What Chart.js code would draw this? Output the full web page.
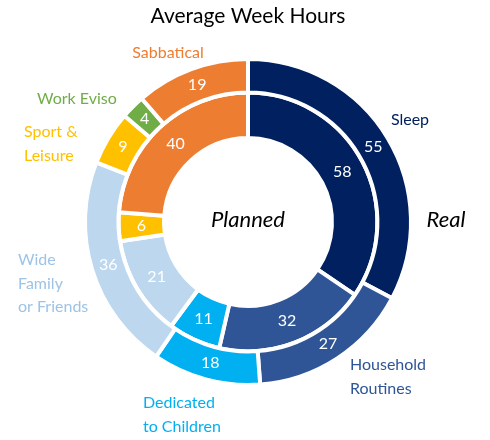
<!DOCTYPE html>
<html><head><meta charset="utf-8">
<script src="https://cdn.jsdelivr.net/npm/chart.js@4/dist/chart.umd.min.js"></script>
<style>body{margin:0;background:#fff}#wrap{width:490px;height:440px}</style>
</head><body><div id="wrap"><canvas id="c"></canvas></div>
<script>
const categories = ['Sleep', 'Household Routines', 'Dedicated to Children', 'Wide Family or Friends', 'Sport & Leisure', 'Work Eviso', 'Sabbatical'];
const realHours = [55, 27, 18, 36, 9, 4, 19];
const plannedHours = [58, 32, 11, 21, 6, 0, 40];
const colors = ['#002060', '#2F5597', '#00B0F0', '#BDD7EE', '#FFC000', '#70AD47', '#ED7D31'];
const FONT = 'Lato, "Open Sans", sans-serif';

// outside category labels: [lines, x, y, align]
const outsideLabels = [
  [['Sleep'], 410, 120, 'center'],
  [['Household', 'Routines'], 350, 365, 'left'],
  [['Dedicated', 'to Children'], 143, 403, 'left'],
  [['Wide', 'Family', 'or Friends'], 18, 260, 'left'],
  [['Sport &', 'Leisure'], 24, 132, 'left'],
  [['Work Eviso'], 37, 99, 'left'],
  [['Sabbatical'], 168, 53, 'center']
];

const labelPlugin = {
  id: 'labels',
  afterDatasetsDraw(chart) {
    const ctx = chart.ctx;
    ctx.save();
    ctx.textBaseline = 'middle';
    chart.data.datasets.forEach((ds, di) => {
      chart.getDatasetMeta(di).data.forEach((arc, i) => {
        if (!ds.data[i]) return;
        const p = arc.getProps(['startAngle', 'endAngle', 'innerRadius', 'outerRadius', 'x', 'y'], true);
        const a = (p.startAngle + p.endAngle) / 2, r = (p.innerRadius + p.outerRadius) / 2;
        ctx.fillStyle = '#fff';
        ctx.font = '16px ' + FONT;
        ctx.textAlign = 'center';
        ctx.fillText(ds.data[i], p.x + Math.cos(a) * r, p.y + Math.sin(a) * r);
      });
    });
    outsideLabels.forEach((l, i) => {
      ctx.fillStyle = i === 3 ? '#9DC3E6' : colors[i];
      if (i === 0 || i === 1) ctx.fillStyle = i === 0 ? '#002060' : '#2F5597';
      ctx.font = '16px ' + FONT;
      ctx.textAlign = l[3];
      l[0].forEach((t, k) => ctx.fillText(t, l[1], l[2] + k * 23.5));
    });
    ctx.fillStyle = '#000';
    ctx.font = 'italic 22px ' + FONT;
    ctx.textAlign = 'center';
    ctx.fillText('Planned', 248, 220);
    ctx.fillText('Real', 446, 220);
    ctx.font = '21px ' + FONT;
    ctx.fillText('Average Week Hours', 248, 16);
    ctx.restore();
  }
};

new Chart(document.getElementById('c'), {
  type: 'doughnut',
  data: {
    labels: categories,
    datasets: [
      { label: 'Real', data: realHours, backgroundColor: colors, borderColor: '#fff', borderWidth: 4, weight: 0.85 },
      { label: 'Planned', data: plannedHours, backgroundColor: colors, borderColor: '#fff', borderWidth: 4, weight: 1.15 }
    ]
  },
  options: {
    responsive: true,
    maintainAspectRatio: false,
    animation: false,
    cutout: '51.5%',
    layout: { padding: { top: 57, bottom: 53, left: 83, right: 77 } },
    plugins: { legend: { display: false }, tooltip: { enabled: false } }
  },
  plugins: [labelPlugin]
});
</script></body></html>
